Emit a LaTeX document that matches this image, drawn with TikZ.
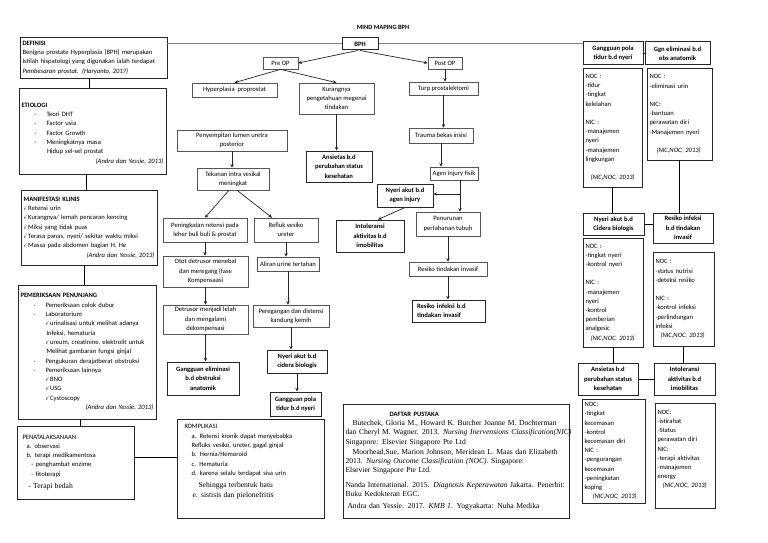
\documentclass[tikz,border=0pt]{standalone}
\usepackage{fontspec}
\setmainfont{Carlito}
\newfontfamily\tnr{Liberation Serif}
\newfontfamily\djv{DejaVu Sans}
\usepackage{xcolor}
\usepackage{tikz}
\usetikzlibrary{arrows.meta}
\newcommand{\fs}{\fontsize{6.6}{9.3}\selectfont}
\newcommand{\fsr}{\tnr\fontsize{7.6}{9.2}\selectfont}
\newcommand{\chk}{{\djv\fontsize{5}{5}\selectfont √}\hspace{1.5pt}}
\newcommand{\nb}[1]{\mbox{#1}}
\newcommand{\itm}[1]{\hspace*{13pt}-\hspace*{10pt}#1}
\newcommand{\ck}[1]{\hspace*{25pt}\mbox{\chk #1}}
\newcommand{\src}[1]{\mbox{}\hfill\textit{#1}}
\definecolor{cLine}{HTML}{262626}
\definecolor{cBox}{HTML}{555555}
\tikzset{
  >={Stealth[length=3.6pt,width=3.4pt]},
  box/.style 2 args={draw=cBox, line width=0.7pt, font=\fs, align=center, inner sep=1pt,
                     minimum width=#1pt, minimum height=#2pt},
  bbox/.style 2 args={box={#1}{#2}, draw=cLine, line width=1pt, font=\fs\bfseries},
  info/.style 2 args={draw=cLine, line width=0.8pt, font=\fs, align=left, inner xsep=2.5pt,
                      inner ysep=0pt, text width=#1pt, minimum height=#2pt},
  noc/.style 2 args={info={#1}{#2}, font=\fontsize{6.6}{9.2}\selectfont},
}

\begin{document}
\begin{tikzpicture}[x=1pt, y=-1pt,
   flow/.style={->, line width=0.7pt, cLine},
   link/.style={line width=1pt, black}]
  \path[fill=white, use as bounding box] (0,0) rectangle (768,543);

  \node[font=\fontsize{6.4}{8}\selectfont\bfseries] (title) at (383,27) {MIND MAPING BPH};
  \node[bbox={36}{12}] (bph) at (360,44) {BPH};
  \node[box={35}{12}] (preop) at (280.5,63) {Pre OP};
  \node[box={34}{12}] (postop) at (445,63) {Post OP};

  % pre op
  \node[box={85}{14}] (hyper) at (234.5,90) {Hyperplasia~ proprostat};
  \node[box={75}{31}] (kurang) at (336.5,98.5) {Kurangnya\\pengetahuan megenai\\tindakan};
  \node[bbox={66}{31}] (ansi1) at (339,166.5) {Ansietas b.d\\perubahan status\\kesehatan};
  \node[box={110}{21}] (peny) at (232,140.5) {Penyempitan lumen uretra\\posterior};
  \node[box={72}{22}] (tekan) at (233,179) {Tekanan intra vesikal\\meningkat};
  \node[box={84}{24}] (penin) at (205,230) {Peningkatan retensi pada\\leher buli buli \& prostat};
  \node[box={64}{24}] (refluk) at (286,230) {Refluk vesiko\\ureter};
  \node[box={85}{31}] (otot) at (205.5,271.5) {Otot detrusor menebal\\dan meregang (fase\\Kompensaasi};
  \node[box={62}{14}] (aliran) at (288,264) {Aliran urine tertahan};
  \node[box={85}{29}] (detr) at (205.5,319.5) {Detrusor menjadi lelah\\dan mengalami\\dekompensasi};
  \node[box={76}{22}] (pereg) at (291,316) {Peregangan dan distensi\\kandung kemih};
  \node[bbox={72}{33}] (ggel) at (203,378.5) {Gangguan eliminasi\\b.d obstruksi\\anatomik};
  \node[bbox={60}{23}] (nyeri1) at (297,361.5) {Nyeri akut b.d\\cidera biologis};
  \node[bbox={51}{24}] (gpt) at (295.5,404) {Gangguan pola\\tidur b.d nyeri};

  % post op
  \node[box={69}{13}] (turp) at (443.5,88.5) {Turp prostalektomi};
  \node[box={64}{15}] (trauma) at (441,135.5) {Trauma bekas insisi};
  \node[box={48}{13}] (agen) at (454,173.5) {Agen injury fisik};
  \node[bbox={56}{23}] (nyeri2) at (405,195.5) {Nyeri akut b.d\\agen injury};
  \node[bbox={68}{32}] (intol) at (370,236) {Intoleransi\\aktivitas b.d\\imobilitas};
  \node[box={64}{24}] (penur) at (448,224) {Penurunan\\pertahanan tubuh};
  \node[box={78}{14}] (resti) at (448,269) {Resiko tindakan invasif};
  \node[bbox={73}{22}, align=left, text width=63pt] (resin) at (448.5,311) {Resiko infeksi b.d\\tindakan invasif};
  \coordinate (split) at (460,194);

  % left column
  \node[info={142}{41}] (defin) at (93.5,57.5)
    {{\bfseries DEFINISI}\\
     \nb{Benigna prostate Hyperplasia (BPH) merupakan}\\
     \nb{Istilah hispatologi yang digunakan ialah terdapat}\\
     \nb{\textit{Pembesaran prostat. (Haryanto, 2017)}}};
  \node[info={142}{86}] (etio) at (92.5,131)
    {\mbox{}\\
     {\bfseries ETIOLOGI}\\
     \itm{Teori DHT}\\
     \itm{Factor usia}\\
     \itm{Factor Growth}\\
     \itm{Meningkatnya masa}\\
     \hspace*{25.5pt}Hidup sel-sel prostat\\
     \src{(Andra dan Yessie, 2013)}};
  \node[info={131}{75}] (mani) at (89,227.5)
    {{\bfseries MANIFESTASI KLINIS}\\
     \chk Retensi urin\\
     \nb{\chk Kurangnya/ lemah pencaran kencing}\\
     \chk Miksi yang tidak puas\\
     \nb{\chk Terasa panas, nyeri/ sekitar waktu miksi}\\
     \nb{\chk Massa pada abdomen bagian H. He}\\
     \src{(Andra dan Yessie, 2013)}};
  \node[info={133}{134}] (peme) at (87,352)
    {{\bfseries PEMERIKSAAN PENUNJANG}\\
     \itm{Pemeriksaan colok dubur}\\
     \itm{Laboratorium}\\
     \ck{urinalisasi untuk melihat adanya}\\
     \hspace*{26pt}Infeksi, hematuria\\
     \ck{ureum, creatinine, elektrolit untuk}\\
     \hspace*{26pt}\nb{Melihat gambaran fungsi ginjal}\\
     \itm{\nb{Pengukuran derajatberat obstruksi}}\\
     \itm{Pemeriksaan lainnya}\\
     \ck{BNO}\\
     \ck{USG}\\
     \ck{Cystoscopy}\\
     \src{(Andra dan Yessie, 2013)}};
  \node[info={112}{73}] (pena) at (75.5,462.5)
    {\hspace*{3pt}PENATALAKSANAAN\\
     \hspace*{7pt}a. observasi\\
     \hspace*{7pt}b. terapi medikamentosa\\
     \hspace*{12pt}- penghambat enzime\\
     \hspace*{12pt}- fitoterapi\\[3pt]
     \hspace*{9pt}{\fsr - Terapi bedah}};
  \node[info={142}{99}] (komp) at (250.5,468.5)
    {\hspace*{5pt}KOMPLIKASI\\
     \hspace*{12pt}\nb{a. Retensi kronik dapat menyebabka}\\
     \hspace*{12pt}\nb{Refluks vesiko, ureter, gagal ginjal}\\
     \hspace*{12pt}b. Hernia/Hemoroid\\
     \hspace*{12pt}c. Hematuria\\
     \hspace*{12pt}\nb{d. karena selalu terdapat sisa urin}\\[3pt]
     \hspace*{19pt}{\fsr Sehingga terbentuk batu}\\
     \hspace*{13pt}{\fsr e. sistisis dan pielonefritis}\\[6pt]
     \mbox{}};
  \node[info={222}{114}, font=\fsr, inner xsep=2pt] (daftar) at (456.5,461)
    {\hspace*{44pt}{\normalfont\fs\bfseries DAFTAR PUSTAKA}\\
     \hspace*{7pt}\nb{Butechek, Gloria M., Howard K. Butcher Joanne M. Dochterman}\\
     \nb{dan Cheryl M. Wagner. 2013. \textit{Nursing Inervensions Classification(NIC)}}\\
     Singapore: Elsevier Singapore Pte Ltd\\[1pt]
     \hspace*{7pt}\nb{Moorhead,Sue, Marion Johnson, Meridean L. Maas dan Elizabeth}\\
     \nb{2013. \textit{Nursing Oucome Classification (NOC)}. Singapore:}\\
     Elsevier Singapore Pte Ltd.\\[5.5pt]
     \nb{Nanda International. 2015. \textit{Diagnosis Keperawatan} Jakarta. Penerbit:}\\
     Buku Kedokteran EGC.\\[2.4pt]
     \hspace*{2pt}\nb{Andra dan Yessie. 2017. \textit{KMB 1}. Yogyakarta: Nuha Medika}};

  % right columns
  \node[bbox={60}{23}] (g1) at (613,53.5) {Gangguan pola\\tidur b.d nyeri};
  \node[bbox={65}{23}] (g2) at (677.5,53.5) {Ggn eliminasi b.d\\obs anatomik};
  \node[noc={54}{119}] (noc1) at (612.5,127.5)
    {NOC :\\-tidur\\-tingkat\\kelelahan\\[9.2pt]NIC :\\-manajemen\\nyeri\\-manajemen\\lingkungan\\[9.2pt]
     \hspace*{5pt}\textit{(NIC,NOC, 2013)}};
  \node[noc={60}{92}] (noc2) at (679.5,114)
    {NOC :\\-eliminasi urin\\[9.2pt]NIC:\\-bantuan\\perawatan diri\\-Manajemen nyeri\\[9.2pt]
     \hspace*{7pt}\textit{(NIC,NOC, 2013)}};
  \node[bbox={61}{22}] (n2) at (613.5,224) {Nyeri akut b.d\\Cidera biologis};
  \node[bbox={60}{30}] (r2) at (683,228) {Resiko infeksi\\b.d tindakan\\invasif};
  \node[noc={55}{109}] (noc3) at (613,292.5)
    {NOC :\\-tingkat nyeri\\-kontrol nyeri\\[9.2pt]NIC :\\-manajemen\\nyeri\\-kontrol\\pemberian\\analgesic\\
     \hspace*{5pt}\textit{(NIC,NOC, 2013)}};
  \node[noc={56}{94}] (noc4) at (683.5,299)
    {NOC :\\-status nutrisi\\-deteksi resiko\\[9.2pt]NIC :\\-kontrol infeksi\\-perlindungan\\infeksi\\
     \hspace*{5pt}\textit{(NIC,NOC, 2013)}};
  \node[bbox={60}{32}] (a2) at (608,379) {Ansietas b.d\\perubahan status\\kesehatan};
  \node[bbox={61}{32}] (i2) at (684.5,379) {Intoleransi\\aktivitas b.d\\imobilitas};
  \node[noc={58}{104}] (noc5) at (613.5,451)
    {NOC:\\-tingkat\\kecemasan\\-kontrol\\kecemasan diri\\NIC :\\-pengurangan\\kecemasan\\-peningkatan\\koping\\
     \hspace*{8pt}\textit{(NIC,NOC, 2013)}};
  \node[noc={55}{105}] (noc6) at (685,455.5)
    {NOC:\\-istirahat\\-Status\\perawatan diri\\NIC:\\-terapi aktivitas\\-manajemen\\energy\\
     \hspace*{5pt}\textit{(NIC,NOC, 2013)}\\[4pt]\mbox{}};

  \draw[link, black!50] (defin.east |- bph.west) -- (bph.west);
  \draw[link, black!50] (bph.east) -- (bph.east -| g1.west);
  \draw[flow] (bph.250) -- (preop.east);
  \draw[flow] (bph.south) -- (postop.west);
  \draw[flow] (preop.south) -- (hyper.north);
  \draw[flow] (preop.south) -- (kurang.north);
  \draw[flow] (kurang.south) -- (kurang.south |- ansi1.north);
  \draw[flow] (peny.south) -- (peny.south |- tekan.north);
  \draw[flow] (tekan.250) -- (penin.north);
  \draw[flow] (tekan.290) -- ([xshift=-14pt]refluk.north);
  \draw[flow] (penin.south) -- (penin.south |- otot.north);
  \draw[flow] (otot.south) -- (otot.south |- detr.north);
  \draw[flow] (detr.south) -- (detr.south |- ggel.north);
  \draw[flow] (refluk.south) -- (refluk.south |- aliran.north);
  \draw[flow] (aliran.south) -- (aliran.south |- pereg.north);
  \draw[flow] (pereg.south) -- (pereg.south |- nyeri1.north);
  \draw[flow] (nyeri1.south) -- (nyeri1.south |- gpt.north);
  \draw[flow] (postop.south) -- (postop.south |- turp.north);
  \draw[flow] (turp.south) -- (turp.south |- trauma.north);
  \draw[flow] (trauma.south) -- (trauma.south |- agen.north);
  \draw[line width=0.7pt, cLine] (split |- agen.south) -- (split);
  \draw[flow] (split) -- (split -| nyeri2.east);
  \draw[flow] (split) -- (split |- penur.north);
  \draw[flow] (nyeri2.south) -- ([xshift=8pt]intol.north);
  \draw[flow] (penur.south) -- (penur.south |- resti.north);
  \draw[flow] (resti.south) -- (resti.south |- resin.north);

  \draw[link] ([xshift=-4pt]defin.south) -- ([xshift=-4pt]defin.south |- etio.north);
  \draw[link] ([xshift=-6pt]etio.south) -- ([xshift=-6pt]etio.south |- mani.north);
  \draw[link] ([xshift=-5pt]mani.south) -- ([xshift=-5pt]mani.south |- peme.north);
  \draw[link] ([xshift=-7pt]peme.south) -- ([xshift=-7pt]peme.south |- pena.north);
  \draw[link] ([yshift=5pt]pena.east) -- ([yshift=5pt]pena.east -| komp.west);

  \draw[link] (g1) -- (g2);
  \draw[link] (noc1.south) -- (noc1.south |- n2.north);
  \draw[link] (noc2.south) -- (noc2.south |- r2.north);
  \draw[link] (n2.east) -- (n2.east -| r2.west);
  \draw[link] (noc3.south) -- (noc3.south |- a2.north);
  \draw[link] (noc4.south) -- (noc4.south |- i2.north);
  \draw[link] (a2.east) -- (a2.east -| i2.west);
\end{tikzpicture}
\end{document}
